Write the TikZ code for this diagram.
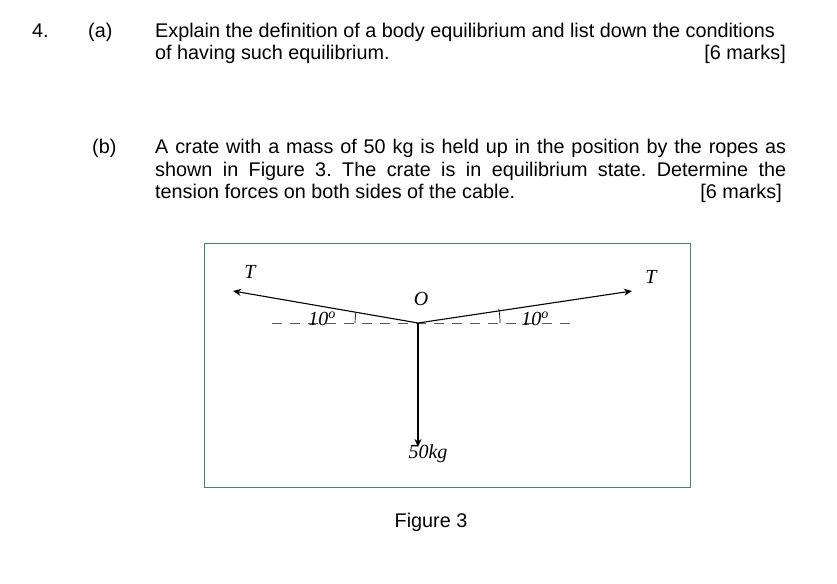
\documentclass[tikz,border=0pt]{standalone}
\usepackage{fontspec}
\setmainfont{Liberation Sans}
\newfontfamily\figfont{Liberation Serif}
\usetikzlibrary{arrows.meta}
\begin{document}
\frenchspacing
\begin{tikzpicture}[x=1pt,y=-1pt,
  txt/.style={anchor=base west,inner sep=0pt,font=\fontsize{19.8}{22}\selectfont},
  lab/.style={inner sep=0pt,font=\figfont\itshape\fontsize{20}{22}\selectfont},
  rope/.style={line width=1.1pt,-{Stealth[length=8pt,width=7pt]}}]
\useasboundingbox (0,0) rectangle (837,583);
\node[txt] (q) at (32,38) {4.};
\node[txt] (qa) at (88,38) {(a)};
\node[txt] (a1) at (155,38) {Explain the definition of a body equilibrium and list down the conditions};
\node[txt] (a2) at (155,60) {of having such equilibrium.};
\node[txt,anchor=base east] (am) at (786,60) {[6 marks]};
\node[txt] (qb) at (92,153) {(b)};
\node[txt] (b1) at (155,153) {\makebox[631pt][s]{A crate with a mass of 50 kg is held up in the position by the ropes as}};
\node[txt] (b2) at (155,176) {\makebox[631pt][s]{shown in Figure 3. The crate is in equilibrium state. Determine the}};
\node[txt] (b3) at (155,198) {tension forces on both sides of the cable.};
\node[txt,anchor=base east] (bm) at (782,198) {[6 marks]};
\draw[draw={rgb,255:red,70;green,130;blue,110},line width=0.9pt] (204,243) rectangle (690,487);
\coordinate (O) at (418,323);
\coordinate (L) at (233,291);
\coordinate (R) at (632,291);
\coordinate (D) at (418,447);
\coordinate (hl) at (272,323);
\coordinate (hr) at (576,323);
\draw[line width=0.9pt,dash pattern=on 10pt off 8pt,gray!70!black] (hl) -- (hr);
\draw[rope] (O) -- (L);
\draw[rope] (O) -- (R);
\draw[rope] (O) -- (D);
\draw[line width=0.7pt] (355,323) arc[start angle=180,end angle=190,radius=63];
\draw[line width=0.7pt] (500,323) arc[start angle=0,end angle=-10,radius=82];
\node[lab] (T1) at (250,272) {T};
\node[lab] (T2) at (651,277) {T};
\node[lab] (Ol) at (421,299) {O};
\node[lab] (a10) at (322,319) {10\textsuperscript{o}};
\node[lab] (b10) at (535,319) {10\textsuperscript{o}};
\node[lab] (w) at (428,454) {50kg};
\node[inner sep=0pt,font=\fontsize{19.8}{22}\selectfont] (f3) at (431,522) {Figure 3};
\end{tikzpicture}
\end{document}
